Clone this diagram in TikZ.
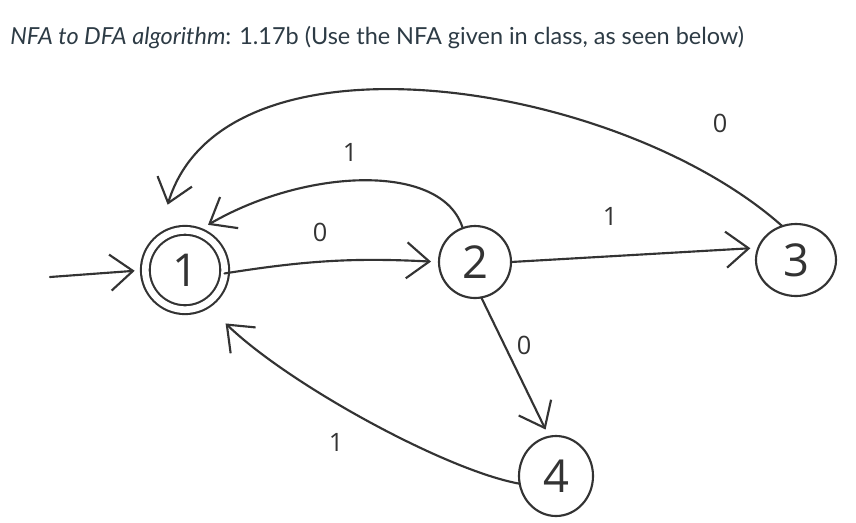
\documentclass[tikz,border=0pt]{standalone}
\usepackage{fontspec}
\setmainfont{Lato}
\newfontfamily\handfont{Open Sans}
\usetikzlibrary{arrows.meta,shapes.geometric}
\definecolor{ink}{HTML}{333333}
\definecolor{canvas}{HTML}{2D3B45}
\begin{document}
\begin{tikzpicture}[x=0.75pt,y=0.75pt,
  stbase/.style={draw=ink, line width=1.6pt, inner sep=0pt, outer sep=0pt, text=ink,
    font=\handfont\fontsize{34}{34}\selectfont},
  stcirc/.style={stbase, circle, minimum size=#1},
  stell/.style={stbase, ellipse, minimum width=#1},
  edge/.style={draw=ink, line width=1.6pt, line cap=round,
    -{Straight Barb[length=17pt,width=27pt,line width=1.6pt]}},
  lab/.style={text=ink, inner sep=0pt, font=\handfont\fontsize{19}{19}\selectfont}]
\useasboundingbox (0,0) rectangle (856,-522);
\fill[white] (0,0) rectangle (856,-522);
% title
\node[anchor=base west, inner sep=0pt, text=canvas, font=\fontsize{17.6}{21}\selectfont]
  (title) at (10,-44) {\textit{NFA to DFA algorithm}: 1.17b (Use the NFA given in class, as seen below)};
% states
\node[stcirc=59.5pt, double=white, double distance=5pt] (n1) at (185,-270) {1};
\node[stcirc=54pt] (n2) at (475,-262) {2};
\node[stell=60pt, minimum height=54pt] (n3) at (796,-260) {3};
\node[stell=55.5pt, minimum height=60pt] (n4) at (556,-476) {4};
% start arrow
\coordinate (s) at (50,-277);
\draw[edge, shorten >=8pt] (s) -- (n1.west);
% transitions
\draw[edge, shorten >=6pt] (n1.-5) to[bend left=6] (n2.180);
\draw[edge, shorten >=10.5pt] (n2.110) .. controls +(-20,66) and +(110,64) .. (n1.74);
\draw[edge, shorten >=30pt] (n3.112) .. controls +(-164,146) and +(68,223) .. (n1.137);
\draw[edge, shorten >=6pt] (n2.east) -- (n3.162);
\draw[edge, shorten >=6pt] (n2.280) -- (n4.100);
\draw[edge, shorten >=21pt] (n4.192) .. controls +(-73,13) and +(84,-81) .. (n1.-59);
% labels
\node[lab] (l12) at (320,-232) {0};
\node[lab] (l21) at (350,-152) {1};
\node[lab] (l31) at (720,-123) {0};
\node[lab] (l23) at (610,-216) {1};
\node[lab] (l24) at (524,-345) {0};
\node[lab] (l41) at (336,-442) {1};
\end{tikzpicture}
\end{document}
